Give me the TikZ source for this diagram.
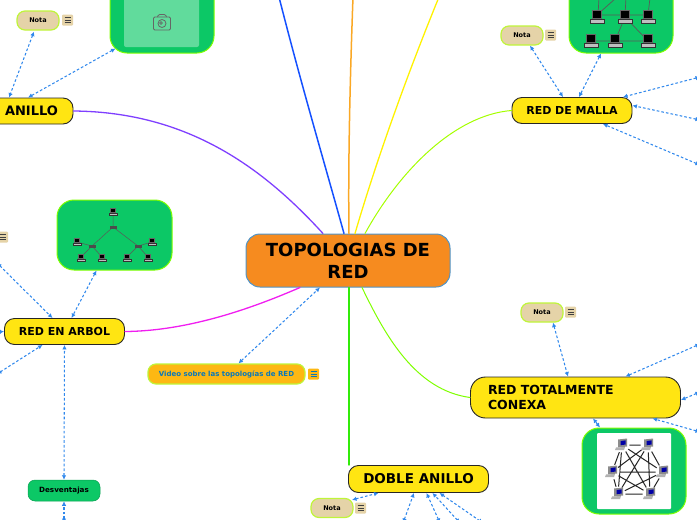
\documentclass[tikz,border=0pt]{standalone}
\usepackage{fontspec}
\setmainfont{DejaVu Sans}
\usetikzlibrary{arrows.meta,calc}
\definecolor{topoorange}{HTML}{F68B1F}
\definecolor{topoedge}{HTML}{4F94C8}
\definecolor{topoyellow}{HTML}{FFE512}
\definecolor{topogreen}{HTML}{0CC866}
\definecolor{topolime}{HTML}{7FFF00}
\definecolor{topoedgelime}{HTML}{BFF53A}
\definecolor{topotan}{HTML}{E5D3A8}
\definecolor{topovideo}{HTML}{FDB813}
\definecolor{topolink}{HTML}{3088EC}
\definecolor{topotext}{HTML}{0A78B8}
\newcommand{\lowr}[1]{\raisebox{-1pt}{#1}}
\tikzset{
  rootnode/.style={draw=topoedge,line width=1pt,fill=topoorange,rounded corners=14pt,minimum width=204pt,minimum height=53pt,inner sep=0pt,align=center,font=\bfseries\fontsize{18}{22}\selectfont},
  mainnode/.style={draw=black!85,line width=.9pt,fill=topoyellow,rounded corners=10pt,minimum height=26pt,inner sep=0pt,align=center,font=\bfseries\fontsize{11}{15}\selectfont},
  notenode/.style={draw=topoedgelime,line width=1.2pt,fill=topotan,rounded corners=8pt,minimum width=42pt,minimum height=19pt,inner sep=0pt,font=\bfseries\fontsize{6.5}{8}\selectfont},
  picnode/.style={draw=topolime,line width=1pt,fill=topogreen,rounded corners=17pt,inner sep=0pt},
  menubox/.style={fill=#1,rounded corners=1pt,minimum width=11pt,minimum height=11pt,inner sep=0pt},
  menubox/.default=topotan,
  linkline/.style={topolink,line width=1.05pt,dash pattern=on 2.6pt off 2.1pt,{Latex[length=4.5pt,width=4.5pt]}-{Latex[length=4.5pt,width=4.5pt]}},
  branch/.style={line width=#1,line cap=round},
  branch/.default=1.3pt,
  pcwire/.style={draw=black!65,line width=.7pt}
}
% small computer: screen over a keyboard
\newcommand{\pcdraw}[3]{%
  \begin{scope}[shift={(#1,#2)},scale=#3]
    \fill[black!60] (-3.5,-5) rectangle (3.5,1.2);
    \fill[black] (-2.6,-4.2) rectangle (2.6,.6);
    \fill[black!25,draw=black!80,line width=.4pt] (-5,1.4) rectangle (5,4.2);
  \end{scope}}
\newcommand{\pcblue}[2]{%
  \begin{scope}[shift={(#1,#2)}]
    \fill[white] (0,0) circle (7.5);
    \fill[black!45] (-4,-5.5) -- (5,-6.5) -- (5,1.5) -- (-4,2.5) -- cycle;
    \fill[blue!65!black] (-1.5,-4) -- (3.5,-4.6) -- (3.5,-.5) -- (-1.5,.2) -- cycle;
    \fill[black!30] (-6,2.5) -- (3,2) -- (2,5) -- (-7,5) -- cycle;
  \end{scope}}
\newcommand{\menuicon}[1]{%
  \draw[black!75,line width=.7pt] ($(#1)+(-3,-2.5)$) -- ++(6,0) ($(#1)+(-3,0)$) -- ++(6,0) ($(#1)+(-3,2.5)$) -- ++(6,0);}
\begin{document}
\begin{tikzpicture}[x=1pt,y=-1pt]
\useasboundingbox (0,0) rectangle (697,520);
\clip (0,0) rectangle (697,520);
% nodes
\node[rootnode] (central) at (348,260.5) {\raisebox{-1pt}{\parbox[c]{200pt}{\centering TOPOLOGIAS DE~\\RED}}};
\node[mainnode,minimum width=86pt,font=\bfseries\fontsize{13}{15}\selectfont] (anillo) at (30,111) {\lowr{\hspace*{3pt}ANILLO}};
\node[mainnode,minimum width=120pt] (malla) at (572,110.5) {\lowr{RED DE MALLA}};
\node[mainnode,minimum width=120pt] (arbol) at (64.5,331.5) {\lowr{RED EN ARBOL}};
\node[mainnode,minimum width=140pt,minimum height=27pt,font=\bfseries\fontsize{13.5}{15}\selectfont] (doble) at (418.5,479) {\lowr{DOBLE ANILLO}};
\node[mainnode,minimum width=210pt,minimum height=41pt,rounded corners=15pt,align=left,font=\bfseries\fontsize{12.5}{14.5}\selectfont] (conexa) at (575.5,397.5) {\raisebox{-.5pt}{\parbox[c]{175pt}{RED TOTALMENTE\\CONEXA}}};
\node[notenode] (notaanillo) at (38,20.5) {\raisebox{-.5pt}{Nota}};
\node[notenode] (notamalla) at (522,35.5) {\raisebox{-.5pt}{Nota}};
\node[notenode] (notaconexa) at (542,312.5) {\raisebox{-.5pt}{Nota}};
\node[notenode] (notadoble) at (332,508) {\raisebox{-.5pt}{Nota}};
\node[menubox] (mena) at (67.5,20) {}; \menuicon{mena}
\node[menubox] (menb) at (550.5,35) {}; \menuicon{menb}
\node[menubox] (menc) at (570.5,312) {}; \menuicon{menc}
\node[menubox] (mend) at (360.5,508) {}; \menuicon{mend}
\node[menubox] (mene) at (2.5,237) {}; \menuicon{mene}
\node[draw=topoedgelime,line width=1.2pt,fill=topovideo,rounded corners=8pt,minimum width=157pt,minimum height=20pt,inner sep=0pt,text=topotext,font=\bfseries\fontsize{7}{8}\selectfont] (video) at (226.5,374) {\lowr{Video sobre las topologías de RED}};
\node[menubox=topovideo] (menf) at (313.5,374) {}; 
\draw[topotext,line width=.7pt] ($(menf)+(-3,-2.5)$) -- ++(6,0) ($(menf)+(-3,0)$) -- ++(6,0) ($(menf)+(-3,2.5)$) -- ++(6,0);
\node[fill=topogreen,rounded corners=7pt,draw=topogreen!80!black,line width=.5pt,minimum width=72pt,minimum height=21pt,inner sep=0pt,font=\bfseries\fontsize{7.2}{8}\selectfont] (desv) at (64,490.5) {\raisebox{-.5pt}{Desventajas}};
% picture nodes
\node[picnode,minimum width=104pt,minimum height=80pt] (fotobox) at (162,13) {};
\fill[white!35!topogreen,rounded corners=2pt] (124,-10) rectangle (199,47);
\begin{scope}[draw=black!60,line width=.8pt,rounded corners=1.2pt]
  \draw (153.5,17) rectangle (170.5,30);
  \draw (157.5,17) -- (158.5,14.5) -- (165.5,14.5) -- (166.5,17);
  \draw (162,23.5) circle (4);
  \draw (161,23) circle (1.4);
\end{scope}
\node[picnode,minimum width=104pt,minimum height=80pt] (mallabox) at (621,13) {};
\draw[pcwire] (597,15) -- (648,15) (625,17) -- (648,41) (615,41) -- (625,17) (591,41) -- (648,41) (597,15) -- (616,-2) (598,15) -- (599,-2) (625,15) -- (626,-2) (648,15) -- (650,-2);
\pcdraw{597}{17}{1.4}\pcdraw{625}{17}{1.4}\pcdraw{648}{17}{1.4}\pcdraw{591}{41}{1.4}\pcdraw{615}{41}{1.4}\pcdraw{648}{41}{1.4}
\node[picnode,minimum width=115pt,minimum height=70pt] (arbolbox) at (114.5,235) {};
\draw[pcwire,line width=.5pt] (113,213) -- (113,227) -- (92,246) -- (77,242) (92,246) -- (81,257) (92,246) -- (102,257) (113,227) -- (138,246) -- (152,242) (138,246) -- (127,257) (138,246) -- (148,257);
\foreach \hubx/\huby in {113/227.5,92/246.5,138/246.5}{\fill[black!70] (\hubx-3.5,\huby-1.5) rectangle (\hubx+3.5,\huby+1.5);}
\pcdraw{113}{212}{.75}\pcdraw{77}{242}{.75}\pcdraw{81}{258}{.75}\pcdraw{102}{258}{.75}\pcdraw{152}{242}{.75}\pcdraw{127}{258}{.75}\pcdraw{148}{258}{.75}
\node[picnode,minimum width=104pt,minimum height=86pt] (conexabox) at (634,471) {};
\fill[white,rounded corners=1pt] (597,433) rectangle (671,509);
\draw[black!85,line width=1pt] (622,445) -- (648,445) -- (663,472) -- (650,494) -- (618,494) -- (612,472) -- cycle;
\draw[black!85,line width=1pt] (622,445) -- (663,472) -- (618,494) -- (648,445) -- (612,472) -- (663,472) (622,445) -- (650,494) -- (612,472) (622,445) -- (618,494) (648,445) -- (650,494);
\foreach \pcx/\pcy in {622/445,648/445,663/472,650/494,618/494,612/472}{\pcblue{\pcx}{\pcy}}
% free ends
\coordinate (offblue) at (279,-3);
\coordinate (offorange) at (353,-3);
\coordinate (offyellow) at (439,-3);
\coordinate (ma) at (700,77);
\coordinate (mb) at (700,120);
\coordinate (mc) at (700,165);
\coordinate (aa) at (-3,263);
\coordinate (ab) at (-3,374);
\coordinate (ac) at (-4,332);
\coordinate (ca) at (700,344);
\coordinate (cb) at (700,392);
\coordinate (cc) at (700,432);
\coordinate (da) at (403,523);
\coordinate (db) at (440,523);
\coordinate (dc) at (460,523);
\coordinate (dd) at (483,523);
\coordinate (ea) at (64,523);
% branches
\draw[branch,color={rgb,255:red,127;green,63;blue,255}] (anillo.east) .. controls (190,112) and (265,170) .. ([xshift=-25]central.north);
\draw[branch=1.5pt,color={rgb,255:red,20;green,80;blue,255}] (offblue) .. controls (300,80) and (325,165) .. ([xshift=-4]central.north);
\draw[branch=1.5pt,color={rgb,255:red,250;green,168;blue,37}] (offorange) .. controls (350,80) and (348,165) .. ([xshift=1]central.north);
\draw[branch,color=yellow] (offyellow) .. controls (405,80) and (375,165) .. ([xshift=7]central.north);
\draw[branch=1pt,color=topolime!70!yellow] (malla.west) .. controls (455,115) and (400,170) .. ([xshift=17]central.north);
\draw[branch,color={rgb,255:red,240;green,30;blue,240}] (arbol.east) .. controls (190,331) and (255,307) .. ([xshift=-48]central.south);
\draw[branch,color={rgb,255:red,50;green,235;blue,10}] ([xshift=1]central.south) -- ([xshift=-69.5]doble.north);
\draw[branch=1pt,color=topolime] (conexa.west) .. controls (415,390) and (385,335) .. ([xshift=14]central.south);
% dashed links
\draw[linkline] (notaanillo.south) ++(-4,1) -- ([xshift=-21]anillo.north);
\draw[linkline] (fotobox.south west) ++(6,-5) -- ([xshift=-2]anillo.north);
\draw[linkline] ([xshift=8]notamalla.south) -- ([xshift=-9]malla.north);
\draw[linkline] ([xshift=-20]mallabox.south) -- ([xshift=7]malla.north);
\draw[linkline] (ma) -- ([xshift=51]malla.north);
\draw[linkline] (mb) -- ([yshift=5]malla.east);
\draw[linkline] (mc) -- ([xshift=31]malla.south);
\draw[linkline] (aa) -- ([xshift=-12]arbol.north);
\draw[linkline] ([xshift=-18]arbolbox.south) -- ([xshift=7]arbol.north);
\draw[linkline] (ab) -- ([xshift=-22]arbol.south);
\draw[linkline] (ac) -- (arbol.west);
\draw[linkline] (desv.north) -- (arbol.south);
\draw[linkline] (ea) -- (desv.south);
\draw[linkline] ([xshift=11]notaconexa.south) -- ([xshift=-7.5]conexa.north);
\draw[linkline] (ca) -- ([xshift=50]conexa.north);
\draw[linkline] (cb) -- ([yshift=-2.5]conexa.east);
\draw[linkline] (cc) -- ([xshift=77]conexa.south);
\draw[linkline] ([xshift=-34]conexabox.north) -- ([xshift=17.5]conexa.south);
\draw[linkline] ([xshift=20,yshift=-2]notadoble.north) -- ([xshift=-40]doble.south);
\draw[linkline] (da) -- ([xshift=-4.5]doble.south);
\draw[linkline] (db) -- ([xshift=8]doble.south);
\draw[linkline] (dc) -- ([xshift=14]doble.south);
\draw[linkline] (dd) -- ([xshift=21]doble.south);
\draw[linkline] ([xshift=12]video.north) -- ([xshift=-28]central.south);
\end{tikzpicture}
\end{document}
